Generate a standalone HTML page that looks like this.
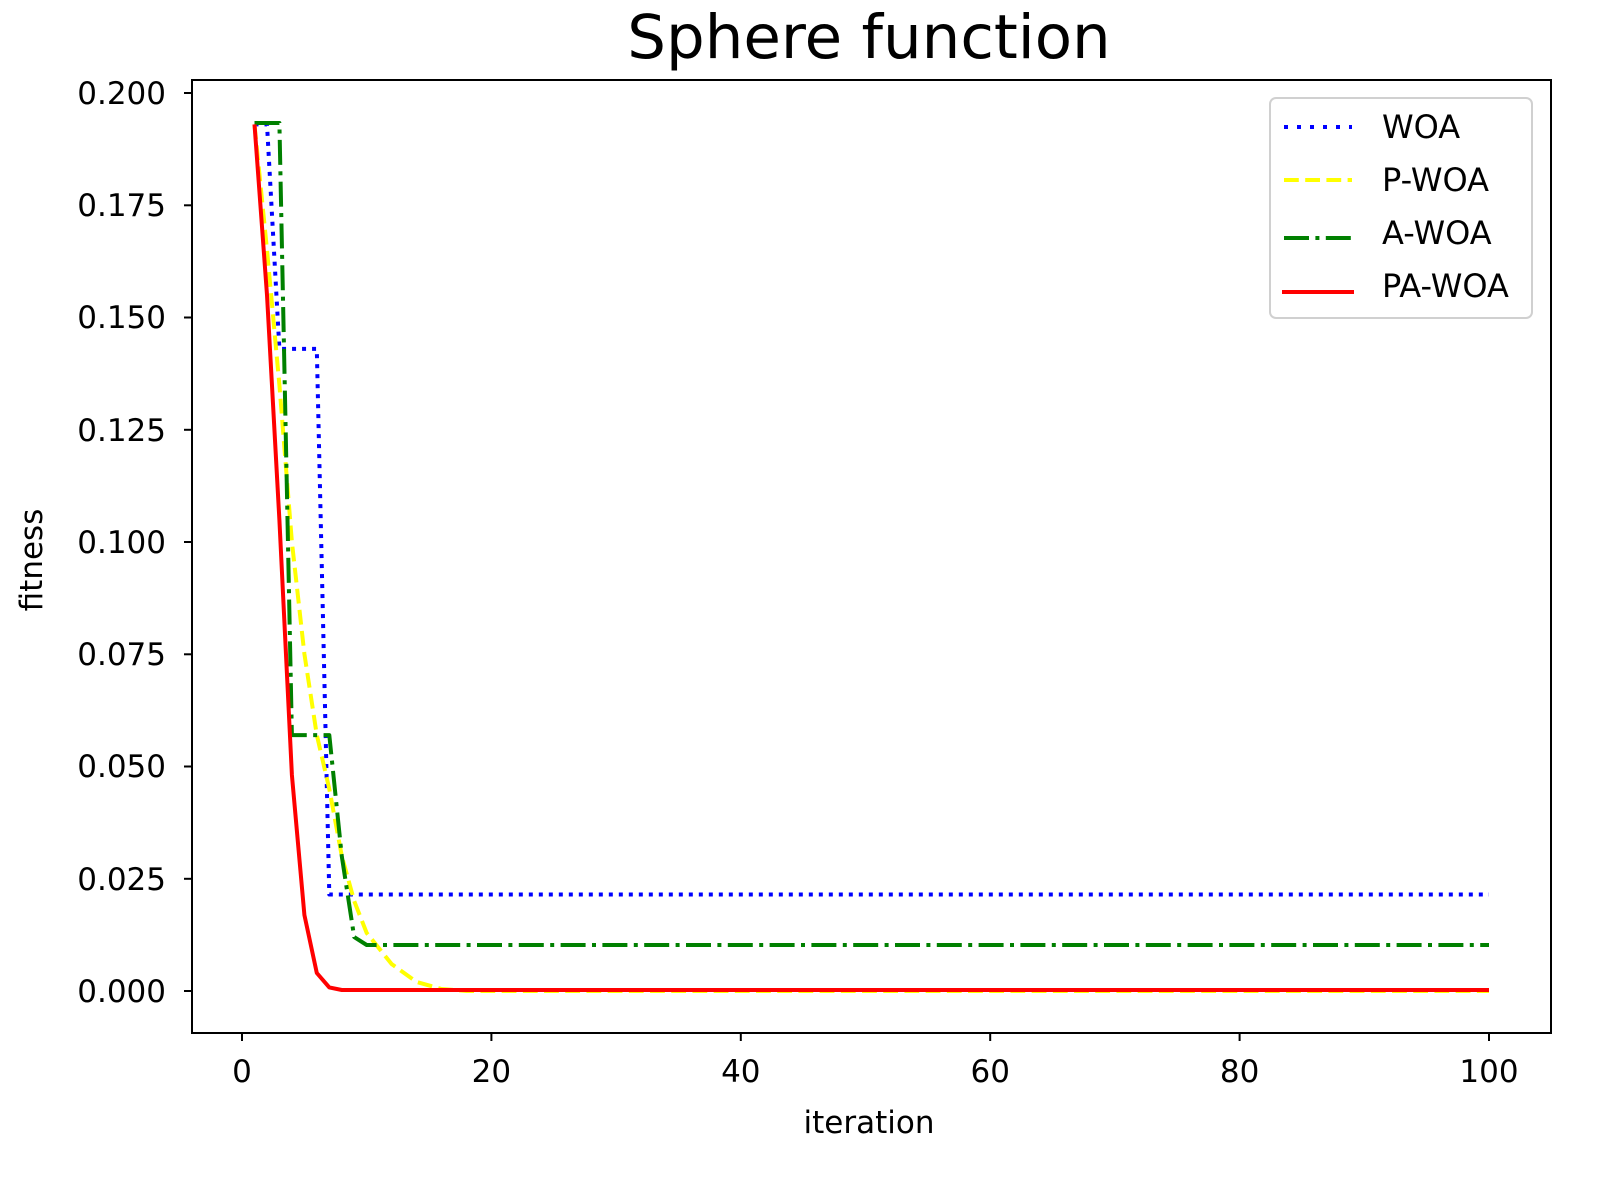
<!DOCTYPE html>
<html><head><meta charset="utf-8"><style>html,body{margin:0;padding:0;background:#fff}svg{display:block}</style></head>
<body>
<svg width="1613" height="1186" viewBox="0 0 1613 1186" xmlns="http://www.w3.org/2000/svg" font-family="'DejaVu Sans','Liberation Sans',sans-serif">
<rect width="1613" height="1186" fill="#fff"/>
<text x="869" y="58" font-size="61" text-anchor="middle" fill="#000">Sphere function</text>
<g fill="none" stroke-linejoin="round">
<polyline stroke="#0000ff" stroke-width="4" stroke-dasharray="4,6" points="254.5,124.4 267,124.4 279.4,348.9 316.8,348.9 329.3,894.5 1489,894.5"/>
<polyline stroke="#ffff00" stroke-width="4" stroke-dasharray="14.8,6.4" points="254.5,124.4 267,250 279.4,385 291.9,542 304.4,654 316.8,735 329.3,789 341.8,856 354.2,901 366.7,933 391.6,964 416.6,982 441.5,989 466.5,991 1489,991"/>
<polyline stroke="#008000" stroke-width="4" stroke-dasharray="25,6.4,4,6.4" points="254.5,123 279.4,123 291.9,735.1 329.3,735.1 341.8,856.3 354.2,937.1 366.7,945 1489,945"/>
<polyline stroke="#ff0000" stroke-width="4" points="254.5,124.4 267,295 279.4,520 291.9,775 304.4,915 316.8,973 329.3,987.4 341.8,990 1489,990"/>
</g>
<rect x="192" y="80" width="1359" height="953" fill="none" stroke="#000" stroke-width="2"/>
<g stroke="#000" stroke-width="2">
<line x1="184" y1="93" x2="192" y2="93"/><line x1="184" y1="205.3" x2="192" y2="205.3"/><line x1="184" y1="317.5" x2="192" y2="317.5"/><line x1="184" y1="429.8" x2="192" y2="429.8"/><line x1="184" y1="542" x2="192" y2="542"/><line x1="184" y1="654.3" x2="192" y2="654.3"/><line x1="184" y1="766.5" x2="192" y2="766.5"/><line x1="184" y1="878.8" x2="192" y2="878.8"/><line x1="184" y1="991" x2="192" y2="991"/>
<line x1="242" y1="1033" x2="242" y2="1041"/><line x1="491.4" y1="1033" x2="491.4" y2="1041"/><line x1="740.8" y1="1033" x2="740.8" y2="1041"/><line x1="990.2" y1="1033" x2="990.2" y2="1041"/><line x1="1239.6" y1="1033" x2="1239.6" y2="1041"/><line x1="1489" y1="1033" x2="1489" y2="1041"/>
</g>
<g font-size="31" fill="#000" text-anchor="end">
<text x="166" y="104">0.200</text><text x="166" y="216">0.175</text><text x="166" y="328">0.150</text><text x="166" y="441">0.125</text><text x="166" y="553">0.100</text><text x="166" y="665">0.075</text><text x="166" y="777">0.050</text><text x="166" y="890">0.025</text><text x="166" y="1002">0.000</text>
</g>
<g font-size="31" fill="#000" text-anchor="middle">
<text x="242" y="1082">0</text><text x="491.4" y="1082">20</text><text x="740.8" y="1082">40</text><text x="990.2" y="1082">60</text><text x="1239.6" y="1082">80</text><text x="1489" y="1082">100</text>
<text x="869" y="1133">iteration</text>
<text transform="translate(42,560) rotate(-90)">fitness</text>
</g>
<rect x="1270" y="98" width="262" height="220" rx="6" fill="#fff" stroke="#d0d0d0" stroke-width="2"/>
<g stroke-width="4">
<line x1="1284" y1="127" x2="1352" y2="127" stroke="#0000ff" stroke-dasharray="4,9"/>
<line x1="1284" y1="180" x2="1352" y2="180" stroke="#ffff00" stroke-dasharray="14.8,6.4"/>
<line x1="1284" y1="238" x2="1352" y2="238" stroke="#008000" stroke-dasharray="25,6.4,4,6.4"/>
<line x1="1282" y1="292" x2="1354" y2="292" stroke="#ff0000"/>
</g>
<g font-size="32" fill="#000">
<text x="1382" y="138">WOA</text><text x="1382" y="191">P-WOA</text><text x="1382" y="244">A-WOA</text><text x="1382" y="297">PA-WOA</text>
</g>
</svg>
</body></html>
